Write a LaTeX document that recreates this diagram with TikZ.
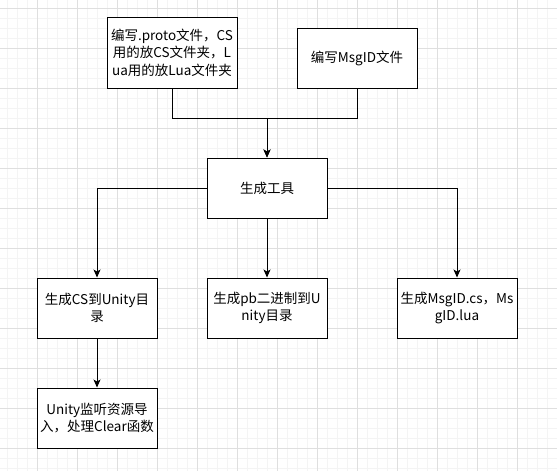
\documentclass[tikz,border=0pt]{standalone}
\usepackage{fontspec}
\setmainfont{Noto Sans CJK SC}
\usetikzlibrary{arrows.meta}
\definecolor{gridminor}{HTML}{F4F4F4}
\definecolor{gridmajor}{HTML}{DFDFDF}
\begin{document}
\begin{tikzpicture}[x=1pt,y=-1pt,
  box/.style={draw=black,line width=1pt,fill=white,minimum width=120pt,minimum height=60pt,inner sep=0pt,align=center,font=\fontsize{13.5}{17.5}\selectfont},
  arr/.style={draw=black,line width=1pt,-{Stealth[length=8pt,width=7pt,inset=2pt]}}]
\useasboundingbox (0,0) rectangle (557,471);
\fill[white] (0,0) rectangle (557,471);
% grid
\foreach \x in {7,17,...,557} \draw[gridminor,line width=1pt] (\x,0) -- (\x,471);
\foreach \y in {8,18,...,471} \draw[gridminor,line width=1pt] (0,\y) -- (557,\y);
\foreach \x in {37,77,...,557} \draw[gridmajor,line width=1pt] (\x,0) -- (\x,471);
\foreach \y in {8,48,...,471} \draw[gridmajor,line width=1pt] (0,\y) -- (557,\y);
% nodes
\node[box,minimum width=130pt,minimum height=71pt] (b1) at (172,52.5) {编写.proto文件，CS\\用的放CS文件夹，L\\ua用的放Lua文件夹};
\node[box] (b2) at (357,58) {编写MsgID文件};
\node[box] (b3) at (267,188) {生成工具};
\node[box] (b4) at (97,308) {生成CS到Unity目\\录};
\node[box] (b5) at (97,418) {Unity监听资源导\\入，处理Clear函数};
\node[box] (b6) at (267,308) {生成pb二进制到U\\nity目录};
\node[box] (b7) at (457,308) {生成MsgID.cs，Ms\\gID.lua};
\coordinate (j) at (267,118);
% connectors
\draw[arr] (b1.south) |- (j) -- (b3.north);
\draw[arr] (b2.south) |- (j) -- (b3.north);
\draw[arr] (b3.west) -| (b4.north);
\draw[arr] (b3.south) -- (b6.north);
\draw[arr] (b3.east) -| (b7.north);
\draw[arr] (b4.south) -- (b5.north);
\end{tikzpicture}
\end{document}
